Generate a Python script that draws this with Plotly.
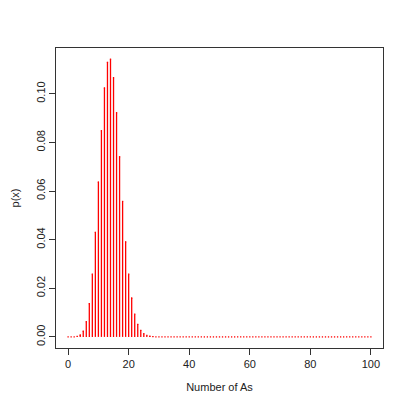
import plotly.graph_objects as go

# Number of As, 0..100
k_values = list(range(101))
# p(x) (heights beyond ~30 are effectively zero)
p_low = [0.0, 0.000002, 0.00004, 0.0002, 0.00078, 0.00242, 0.00625, 0.0137,
         0.0258, 0.0430, 0.0637, 0.0848, 0.1024, 0.1129, 0.1142, 0.1066,
         0.0922, 0.0741, 0.0557, 0.0391, 0.0258, 0.0160, 0.00935, 0.00516,
         0.0027, 0.00133, 0.00063, 0.00028, 0.00012, 0.00005, 0.00002]
p_values = p_low + [0.0] * (len(k_values) - len(p_low))

y_ticks = [0.00, 0.02, 0.04, 0.06, 0.08, 0.10]
x_ticks = [0, 20, 40, 60, 80, 100]

# vertical "h"-type bars
xs, ys = [], []
for k, p in zip(k_values, p_values):
    xs += [k, k, None]
    ys += [0, p, None]

fig = go.Figure()
fig.add_trace(go.Scatter(x=xs, y=ys, mode="lines",
                         line=dict(color="red", width=1.3), hoverinfo="skip"))
fig.add_trace(go.Scatter(x=k_values, y=p_values, mode="markers",
                         marker=dict(color="red", size=1.3, symbol="square"),
                         hoverinfo="skip"))

axis_common = dict(showgrid=False, zeroline=False, showline=True,
                   linecolor="#333", linewidth=1, mirror=True,
                   ticks="outside", ticklen=6, tickcolor="#333",
                   automargin=False,
                   tickfont=dict(size=11, color="#222"))

fig.update_layout(
    width=400, height=400,
    margin=dict(l=48, r=25, t=40, b=60),
    plot_bgcolor="white", paper_bgcolor="white",
    showlegend=False,
    font=dict(family="Liberation Sans, Arial, sans-serif", color="#222"),
    xaxis=dict(range=[-4, 104], tickvals=x_ticks,
               title=dict(text="Number of As", font=dict(size=11), standoff=14),
               **axis_common),
    yaxis=dict(range=[-0.00456, 0.1188], tickvals=y_ticks, tickformat=".2f",
               tickangle=-90,
               title=dict(text="p(x)", font=dict(size=11), standoff=12),
               **axis_common),
)

fig.write_html("out.html")
